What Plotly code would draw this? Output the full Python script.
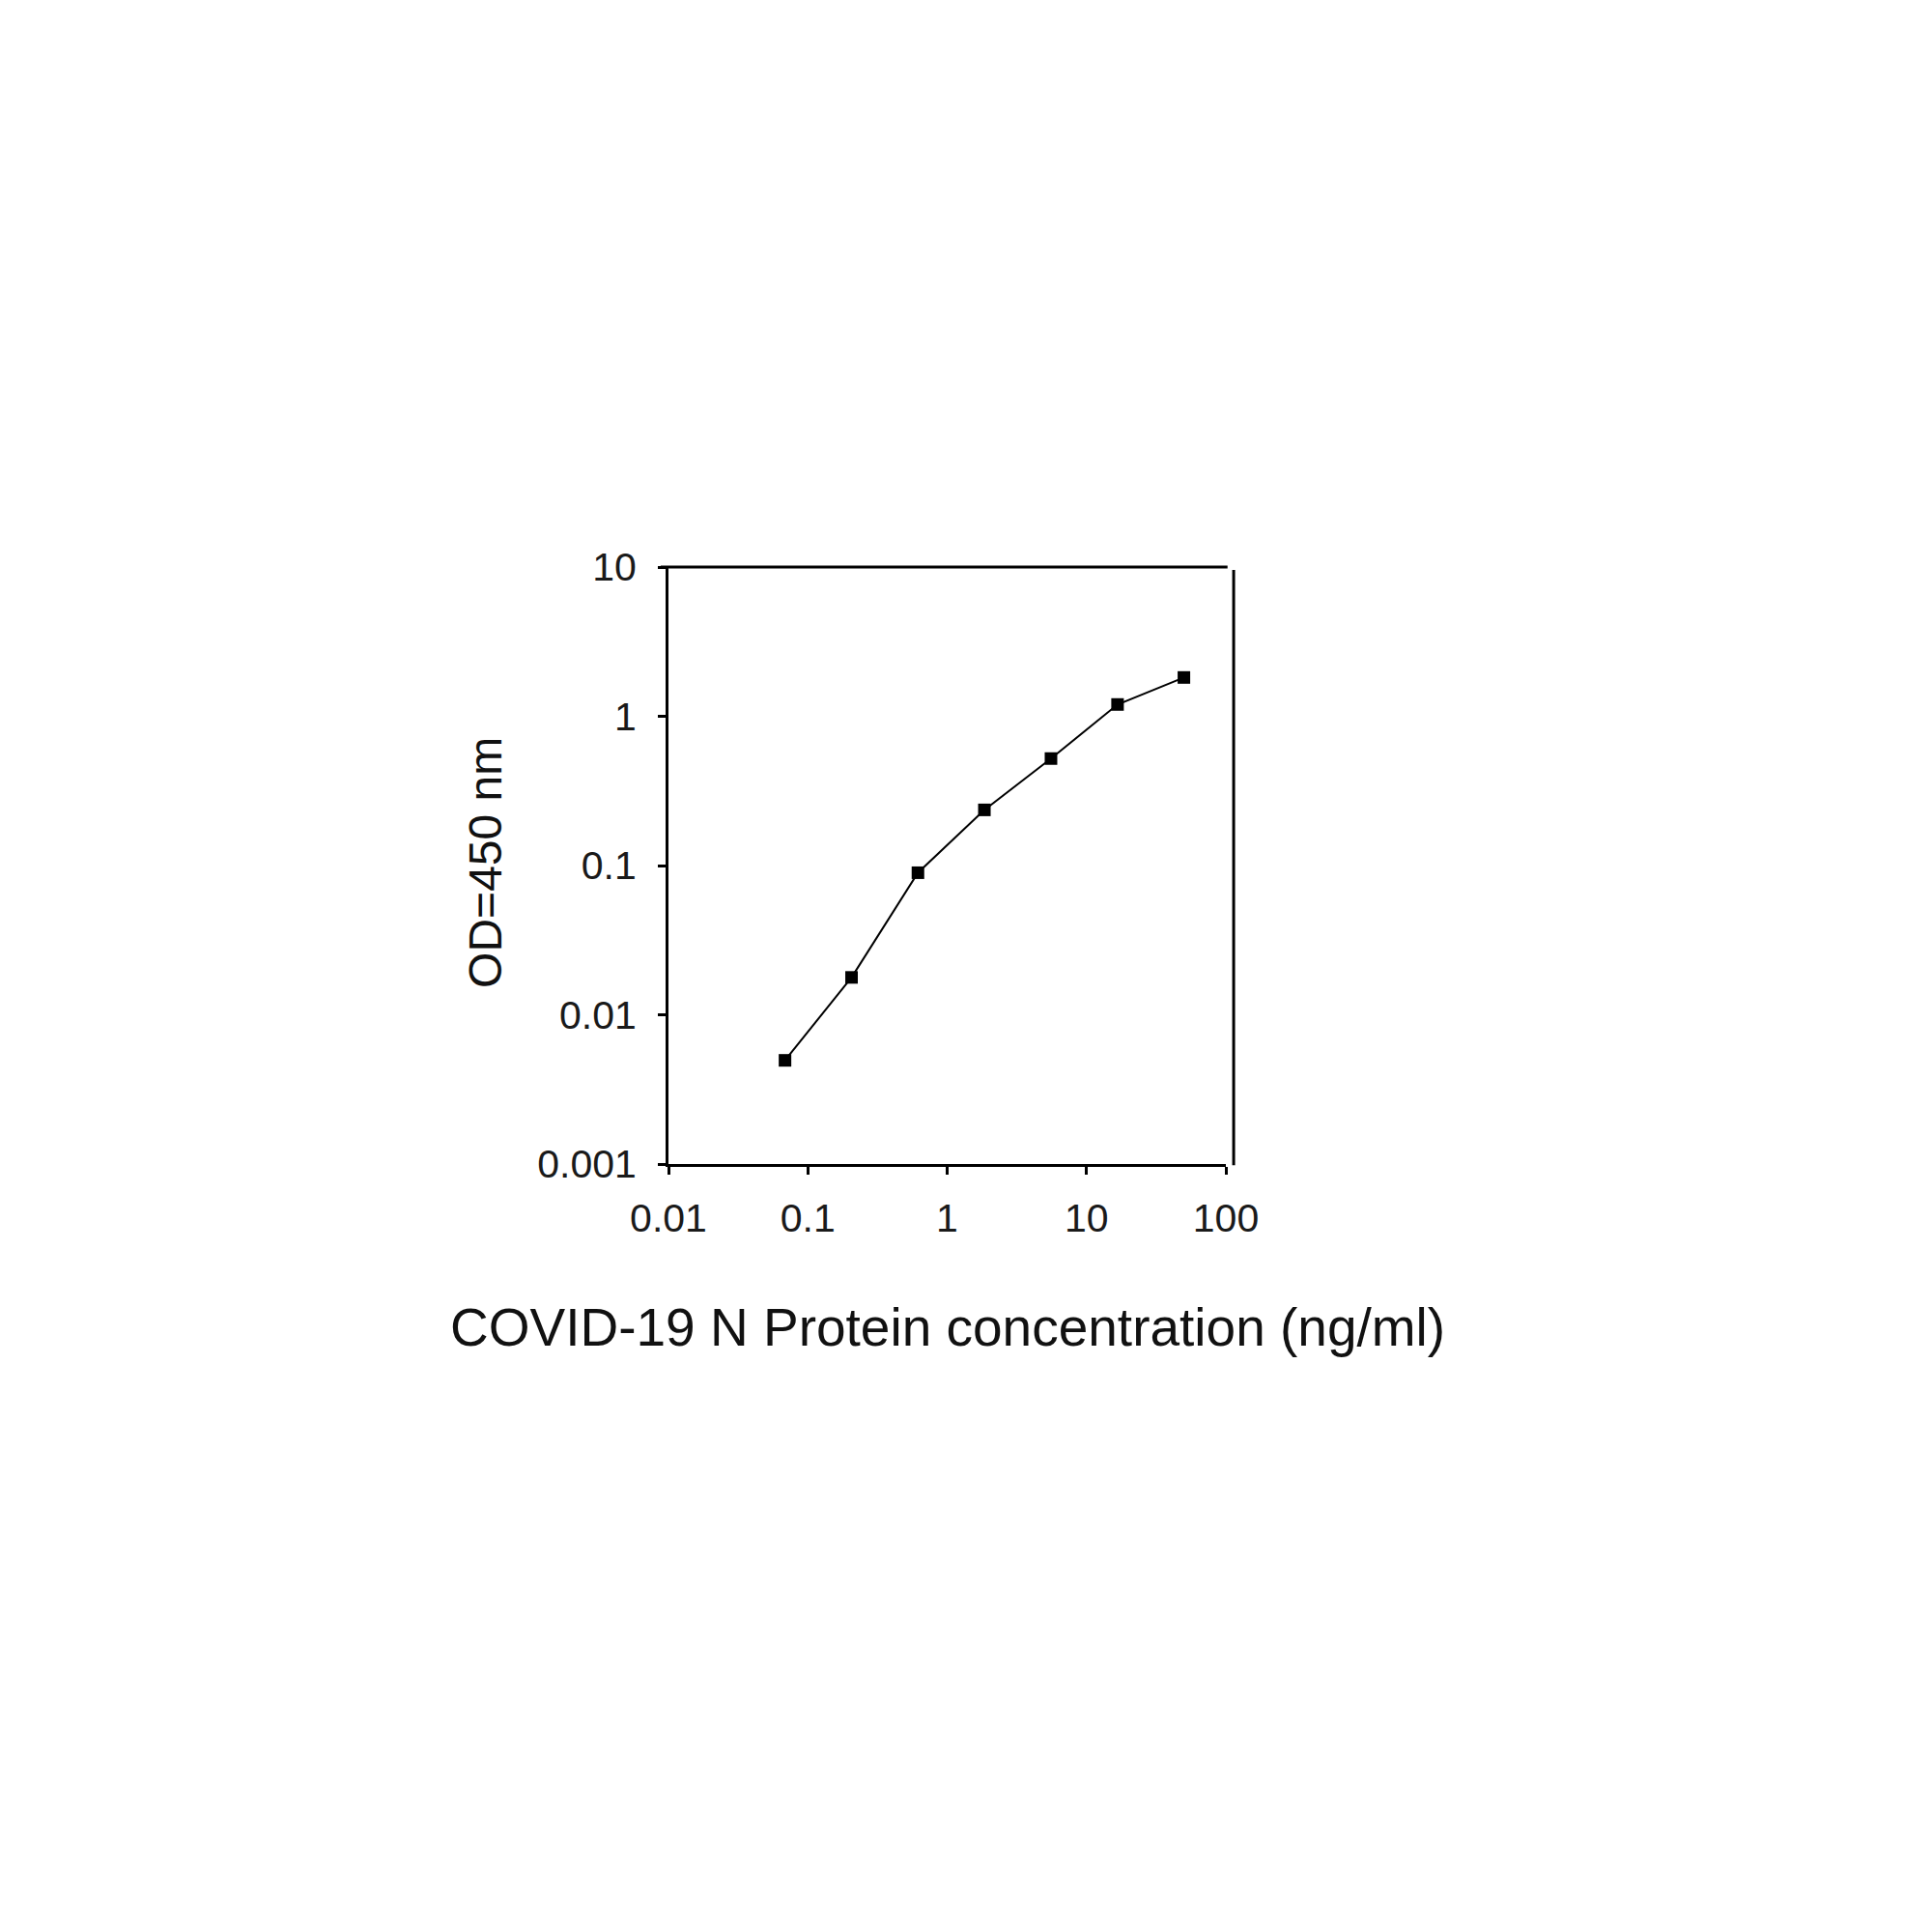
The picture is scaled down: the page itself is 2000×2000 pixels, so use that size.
import plotly.graph_objects as go

# ELISA standard curve
concentration = [0.0686, 0.206, 0.617, 1.85, 5.56, 16.7, 50.0]
od450 = [0.00495, 0.0178, 0.0895, 0.236, 0.521, 1.20, 1.82]

x_ticks = [0.01, 0.1, 1, 10, 100]
x_labels = ["0.01", "0.1", "1", "10", "100"]
y_ticks = [0.001, 0.01, 0.1, 1, 10]
y_labels = ["0.001", "0.01", "0.1", "1", "10"]

font_name = "Liberation Sans, Arial, sans-serif"

fig = go.Figure()
fig.add_trace(go.Scatter(
    x=concentration,
    y=od450,
    mode="lines+markers",
    line=dict(color="black", width=2),
    marker=dict(symbol="square", size=13, color="black"),
    showlegend=False,
))

axis_common = dict(
    showgrid=False,
    zeroline=False,
    showline=True,
    linecolor="black",
    linewidth=3,
    ticks="outside",
    ticklen=8,
    tickwidth=2.5,
    tickcolor="black",
    tickfont=dict(family=font_name, size=41, color="#1a1a1a"),
)

fig.update_xaxes(
    type="log",
    range=[-2, 2],
    tickvals=x_ticks,
    ticktext=x_labels,
    ticklabelstandoff=10,
    **axis_common,
)
fig.update_yaxes(
    type="log",
    range=[-3, 1],
    tickvals=y_ticks,
    ticktext=y_labels,
    ticklabelstandoff=14,
    **axis_common,
)

# top and right frame lines (drawn separately in the original)
fig.add_shape(type="line", xref="x domain", yref="y domain",
              x0=-0.014, x1=1.003, y0=1.0, y1=1.0,
              line=dict(color="black", width=3))
fig.add_shape(type="line", xref="x domain", yref="y domain",
              x0=1.014, x1=1.014, y0=-0.002, y1=0.995,
              line=dict(color="black", width=3))

# axis titles
fig.add_annotation(
    text="COVID-19 N Protein concentration (ng/ml)",
    xref="paper", yref="paper", x=0.501, y=-0.273,
    xanchor="center", yanchor="middle", showarrow=False,
    font=dict(family=font_name, size=55, color="#111111"),
)
fig.add_annotation(
    text="OD=450 nm",
    xref="paper", yref="paper", x=-0.3276, y=0.505,
    xanchor="center", yanchor="middle", showarrow=False, textangle=-90,
    font=dict(family=font_name, size=48, color="#111111"),
)

fig.update_layout(
    width=2000,
    height=2000,
    margin=dict(l=684, r=739, t=579, b=803, autoexpand=False),
    paper_bgcolor="white",
    plot_bgcolor="white",
)

fig.write_html("out.html")
